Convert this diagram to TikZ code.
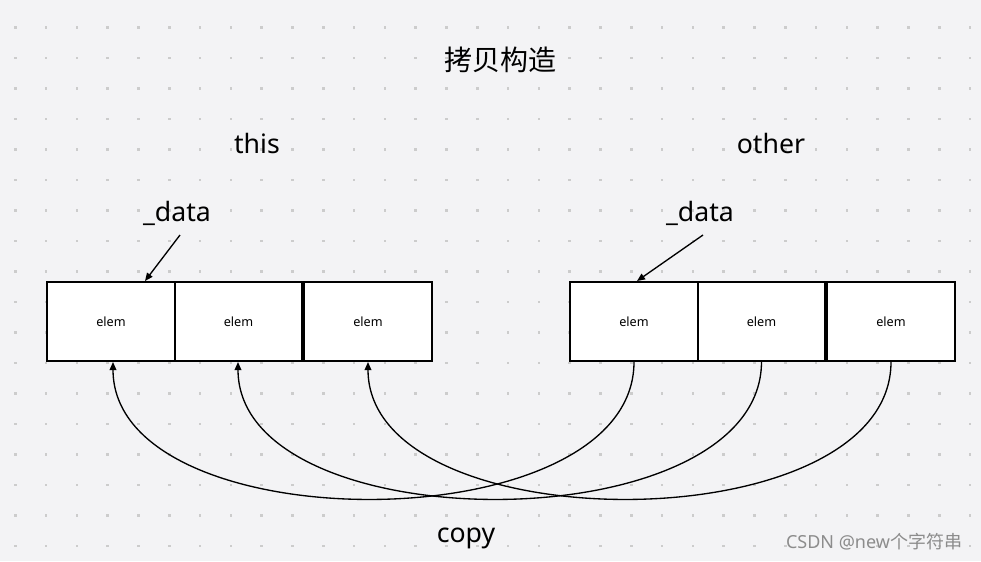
\documentclass[tikz,border=0pt]{standalone}
\usepackage{fontspec}
\setmainfont{Noto Sans}
\newfontfamily\cjk{Noto Sans CJK SC}
\usetikzlibrary{arrows.meta}
\definecolor{bg}{HTML}{F3F3F5}
\definecolor{dot}{HTML}{CCCCCC}
\begin{document}
\begin{tikzpicture}[x=0.75pt,y=-0.75pt,
  cell/.style={draw=black,line width=1.3pt,fill=white,minimum width=127.5*0.75pt,minimum height=79*0.75pt,inner sep=0pt,font=\fontsize{9.5}{11}\selectfont},
  lbl/.style={font=\fontsize{20}{24}\selectfont},
  conn/.style={line width=1pt,-{Triangle[length=6pt,width=5pt]}}]
\useasboundingbox (0,0) rectangle (981,561);
\fill[bg] (0,0) rectangle (981,561);
\foreach \i in {0,...,31}{\foreach \j in {0,...,17}{
  \fill[dot] (15+30.8*\i-1,27+30.5*\j-1) rectangle ++(2.5,2.5);}}
\node[lbl,font=\fontsize{21}{24}\selectfont] (title) at (500,60) {\cjk 拷贝构造};
\node[lbl] (this) at (257,143) {this};
\node[lbl] (other) at (771,143) {other};
\node[lbl] (d1) at (177,213) {\_data};
\node[lbl] (d2) at (700,213) {\_data};
\node[cell] (a1) at (111,321.5) {elem};
\node[cell] (a2) at (238.5,321.5) {elem};
\node[cell] (a3) at (368,321.5) {elem};
\node[cell] (b1) at (634,321.5) {elem};
\node[cell] (b2) at (761.5,321.5) {elem};
\node[cell] (b3) at (891,321.5) {elem};
\coordinate (p1) at (180,235);
\coordinate (p2) at (703,235);
\draw[conn] (p1) -- (145,281);
\draw[conn] (p2) -- (637,281);
\draw[conn] (b1.south) .. controls (634,544) and (113,544) .. (113,362);
\draw[conn] (b2.south) .. controls (761,544) and (238,544) .. (238,362);
\draw[conn] (b3.south) .. controls (891,544) and (368,544) .. (368,362);
\node[lbl] (copy) at (466,538) {copy};
\node[font=\fontsize{13.5}{15}\selectfont,text=black!45] (wm) at (874,542) {CSDN @new\cjk 个字符串};
\end{tikzpicture}
\end{document}
